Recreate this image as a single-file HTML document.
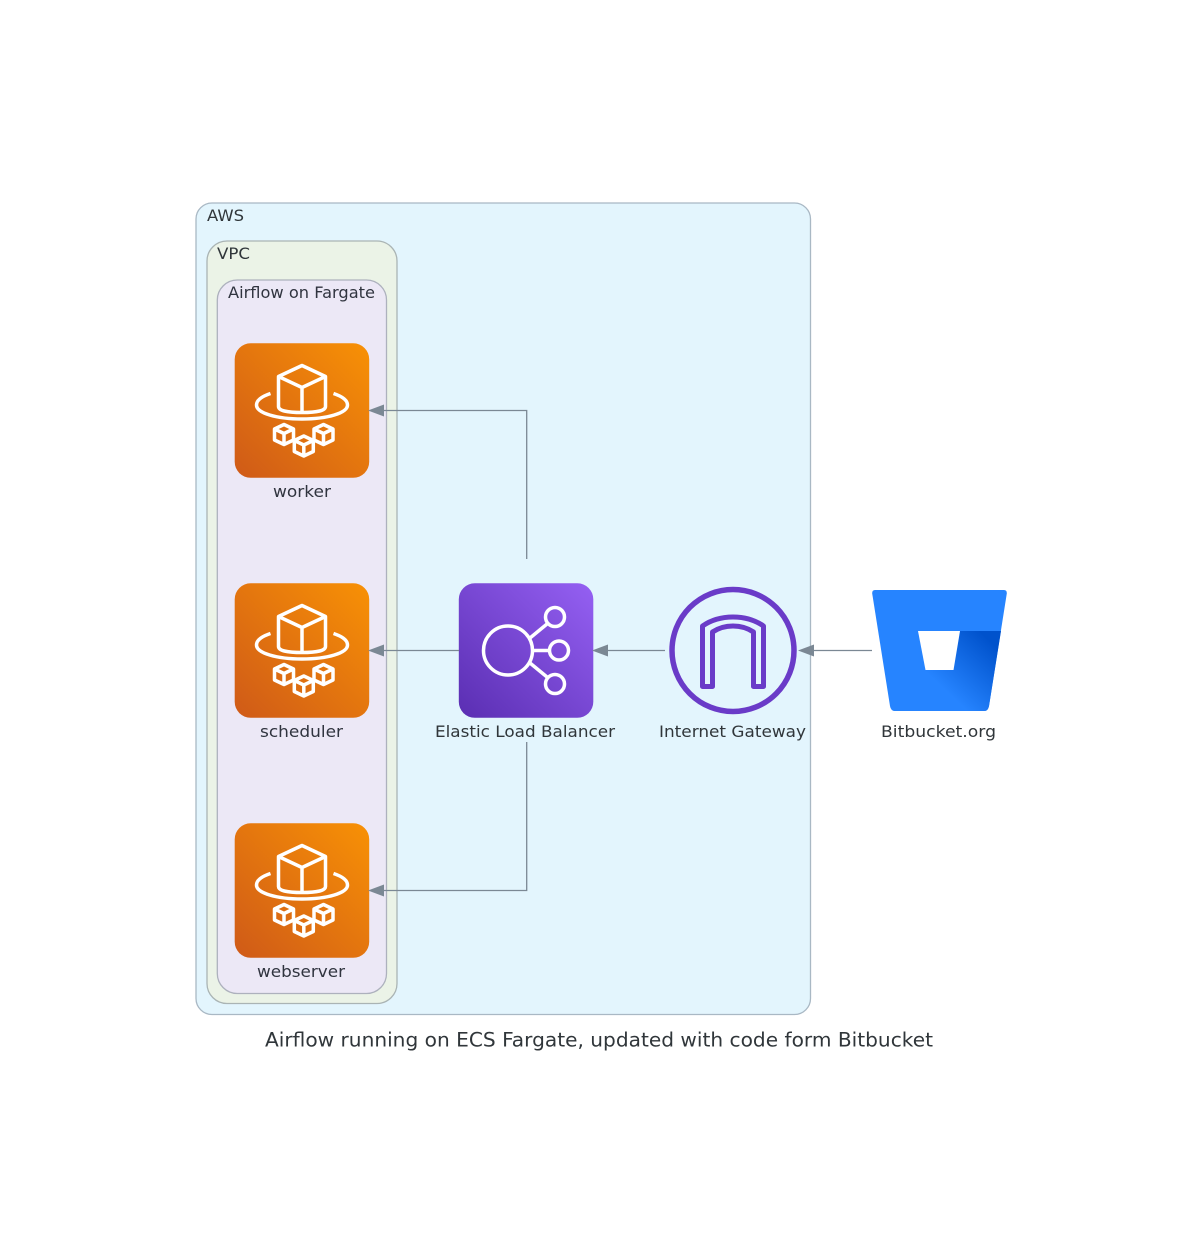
<!DOCTYPE html>
<html><head><meta charset="utf-8"><style>html,body{margin:0;padding:0;background:#fff}svg{display:block}text{font-family:"DejaVu Sans",sans-serif;font-size:16px;fill:#30363a}</style></head>
<body>
<svg width="1199" height="1251" viewBox="0 0 1199 1251" xmlns="http://www.w3.org/2000/svg">
<defs>
<linearGradient id="o" x1="0" y1="1" x2="1" y2="0"><stop offset="0" stop-color="#cf5a18"/><stop offset="1" stop-color="#f89105"/></linearGradient>
<linearGradient id="p" x1="0" y1="1" x2="1" y2="0"><stop offset="0" stop-color="#5a2eb2"/><stop offset="1" stop-color="#9560f3"/></linearGradient>
<linearGradient id="b" gradientUnits="userSpaceOnUse" x1="1001" y1="631" x2="945" y2="690"><stop offset="0.18" stop-color="#0052cc"/><stop offset="1" stop-color="#2684ff"/></linearGradient>
<g id="f" fill="none" stroke="#fff" stroke-width="3.500" stroke-linejoin="round">
<path d="M302 365.500l23.500 11v30q0 6-23.500 6t-23.500-6v-30zM278.500 376.500l23.500 11 23.500-11M302 387.500v25"/>
<path d="M270.500 393.500c-9 3-14 7-14 11.500 0 8 20 14 45.500 14s45.500-6 45.500-14c0-4.500-5-8.500-14-11.500"/>
<g id="c"><path d="M284 424.500l9.500 4.500v11l-9.500 4.500-9.500-4.500v-11zM274.500 429l9.500 4.500 9.500-4.500M284 433.500v11"/></g>
<use href="#c" x="39.500"/><use href="#c" x="19.800" y="11.500"/>
</g>
</defs>
<rect x="196" y="203" width="614.500" height="811.500" rx="16" fill="#e3f5fd" stroke="#a9b8c4" stroke-width="1.300"/>
<rect x="207" y="241" width="190" height="762.500" rx="20" fill="#ebf3e7" stroke="#aab4b4" stroke-width="1.300"/>
<rect x="217.300" y="280" width="169.200" height="713.500" rx="20" fill="#ece8f6" stroke="#adb1bd" stroke-width="1.300"/>
<text x="207" y="221" textLength="37" lengthAdjust="spacingAndGlyphs">AWS</text>
<text x="217" y="259" textLength="33" lengthAdjust="spacingAndGlyphs">VPC</text>
<text x="228" y="298" textLength="147" lengthAdjust="spacingAndGlyphs" style="fill:#30343f">Airflow on Fargate</text>

<g id="n1"><rect x="234.700" y="343.300" width="134.500" height="134.500" rx="16" fill="url(#o)"/><use href="#f"/></g>
<g transform="translate(0 240)"><rect x="234.700" y="343.300" width="134.500" height="134.500" rx="16" fill="url(#o)"/><use href="#f"/></g>
<g transform="translate(0 480)"><rect x="234.700" y="343.300" width="134.500" height="134.500" rx="16" fill="url(#o)"/><use href="#f"/></g>
<text x="302" y="497" text-anchor="middle" textLength="58" lengthAdjust="spacingAndGlyphs" style="fill:#30343f">worker</text>
<text x="301.500" y="737" text-anchor="middle" textLength="83" lengthAdjust="spacingAndGlyphs" style="fill:#30343f">scheduler</text>
<text x="301" y="977" text-anchor="middle" textLength="88" lengthAdjust="spacingAndGlyphs" style="fill:#30343f">webserver</text>

<rect x="458.800" y="583.300" width="134.500" height="134.500" rx="16" fill="url(#p)"/>
<g fill="none" stroke="#fff" stroke-width="3.500">
<circle cx="508" cy="650.500" r="24.500"/><circle cx="555" cy="617" r="9.500"/><circle cx="559" cy="650.500" r="9.500"/><circle cx="555" cy="684" r="9.500"/>
<path d="M530 638l17-14M532.500 650.500h17M530 663l17 14"/>
</g>
<text x="525" y="737" text-anchor="middle" textLength="180" lengthAdjust="spacingAndGlyphs">Elastic Load Balancer</text>

<circle cx="733" cy="650.500" r="61" fill="none" stroke="#6a3bc8" stroke-width="5.500"/>
<path d="M702.500 686.500V626q13-9 30.500-9t30.500 9v60.500h-10V632q-9-6-20.500-6t-20.500 6v54.500z" fill="none" stroke="#6a3bc8" stroke-width="5" stroke-linejoin="round"/>
<text x="732.500" y="737" text-anchor="middle" textLength="147" lengthAdjust="spacingAndGlyphs">Internet Gateway</text>

<path d="M875 590h129q3 0 2.800 3.500L989 706q-.8 5-5 5H895q-4.200 0-5-5L872.200 593.500q-.2-3.500 2.800-3.500z" fill="#2684ff"/>
<path d="M1001 631h-41l-6.500 39H925l-33 39q1 2 3 2h89q4.200 0 5-5z" fill="url(#b)"/>
<path d="M918 631h42l-6.500 39h-28z" fill="#fff"/>
<text x="938.500" y="737" text-anchor="middle" textLength="115" lengthAdjust="spacingAndGlyphs">Bitbucket.org</text>

<g fill="none" stroke="#7b8894" stroke-width="1.300">
<path d="M526.700 559V410.500H383M526.700 742V890.500H383M459 650.500H383M665 650.500H607M872 650.500H813"/>
</g>
<g fill="#7b8894">
<path d="M368 410.500l16-6v12zM368 650.500l16-6v12zM368 890.500l16-6v12zM592 650.500l16-6v12zM798 650.500l16-6v12z"/>
</g>
<text x="599" y="1046.500" text-anchor="middle" textLength="668" lengthAdjust="spacingAndGlyphs" style="font-size:19.200px">Airflow running on ECS Fargate, updated with code form Bitbucket</text>
</svg>
</body></html>
